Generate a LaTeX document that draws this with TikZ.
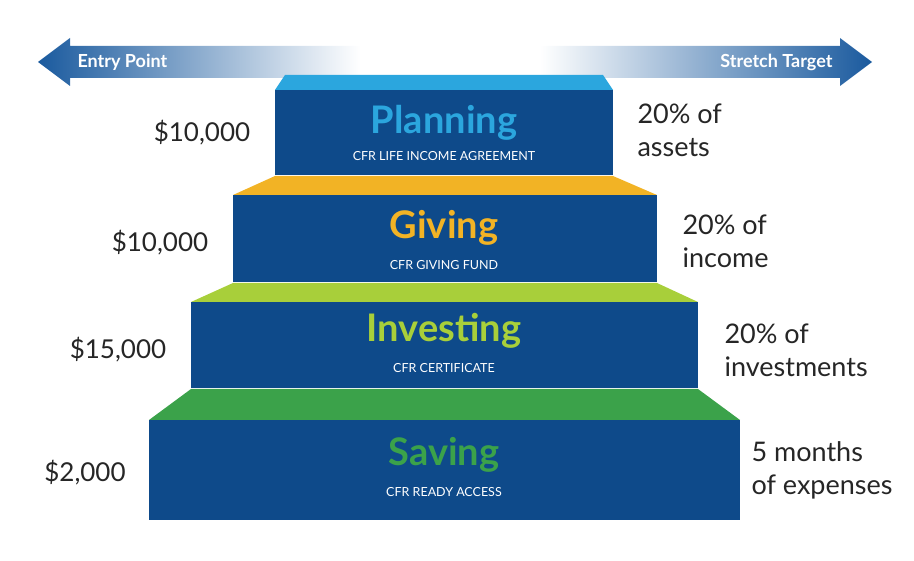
\documentclass[tikz,border=0pt]{standalone}
\usepackage{fontspec}
\setmainfont{Lato}
\usetikzlibrary{shapes.arrows}
\definecolor{navy}{HTML}{0E4A8A}
\definecolor{cplan}{HTML}{2BA6DE}
\definecolor{cgive}{HTML}{F2B325}
\definecolor{cinv}{HTML}{A8CF3A}
\definecolor{csave}{HTML}{3BA24A}
\definecolor{arr}{HTML}{1A5A9E}
\begin{document}
\begin{tikzpicture}[x=1pt,y=-1pt,
  box/.style={fill=navy},
  ttl/.style={font=\fontsize{38}{38}\selectfont\bfseries},
  sub/.style={font=\fontsize{12.5}{12.5}\selectfont, text=white},
  amt/.style={font=\fontsize{26}{26}\selectfont, text=black!85},
  note/.style={font=\fontsize{27}{33}\selectfont, text=black!85, anchor=west, align=left},
  lab/.style={font=\fontsize{18}{18}\selectfont\bfseries, text=white}]
\useasboundingbox (0,0) rectangle (914,561);
% arrows
\shade[left color=arr, right color=white] (38,62) -- (70,38) -- (70,46) -- (360,46) -- (360,78) -- (70,78) -- (70,86) -- cycle;
\shade[left color=white, right color=arr] (872,62) -- (840,38) -- (840,46) -- (540,46) -- (540,78) -- (840,78) -- (840,86) -- cycle;
\node[lab, anchor=west] (ep) at (74,62) {Entry Point};
\node[lab, anchor=east] (st) at (836,62) {Stretch Target};
% steps
\fill[cplan] (285,75) -- (603,75) -- (613,90) -- (275,90) -- cycle;
\fill[box] (275,90) rectangle (613,175);
\fill[cgive] (275,176) -- (613,176) -- (657,195) -- (233,195) -- cycle;
\fill[box] (233,195) rectangle (657,282);
\fill[cinv] (233,283) -- (657,283) -- (698,302) -- (191,302) -- cycle;
\fill[box] (191,302) rectangle (698,388);
\fill[csave] (191,389) -- (698,389) -- (740,420) -- (149,420) -- cycle;
\fill[box] (149,420) rectangle (740,520);
% titles
\node[ttl, text=cplan] (p) at (444,123) {Planning};
\node[sub] (ps) at (444,156) {CFR LIFE INCOME AGREEMENT};
\node[ttl, text=cgive] (g) at (444,228) {Giving};
\node[sub] (gs) at (444,265) {CFR GIVING FUND};
\node[ttl, text=cinv] (i) at (444,331) {Investing};
\node[sub] (is) at (444,368) {CFR CERTIFICATE};
\node[ttl, text=csave] (s) at (444,455) {Saving};
\node[sub] (ss) at (444,492) {CFR READY ACCESS};
% amounts
\node[amt] (a1) at (202,133) {\$10,000};
\node[amt] (a2) at (160,243) {\$10,000};
\node[amt] (a3) at (118,350) {\$15,000};
\node[amt] (a4) at (85,473) {\$2,000};
% notes
\node[note] (n1) at (634,130) {20\% of\\assets};
\node[note] (n2) at (679,241) {20\% of\\income};
\node[note] (n3) at (721,350) {20\% of\\investments};
\node[note] (n4) at (748,470) {5 months\\of expenses};
\end{tikzpicture}
\end{document}
